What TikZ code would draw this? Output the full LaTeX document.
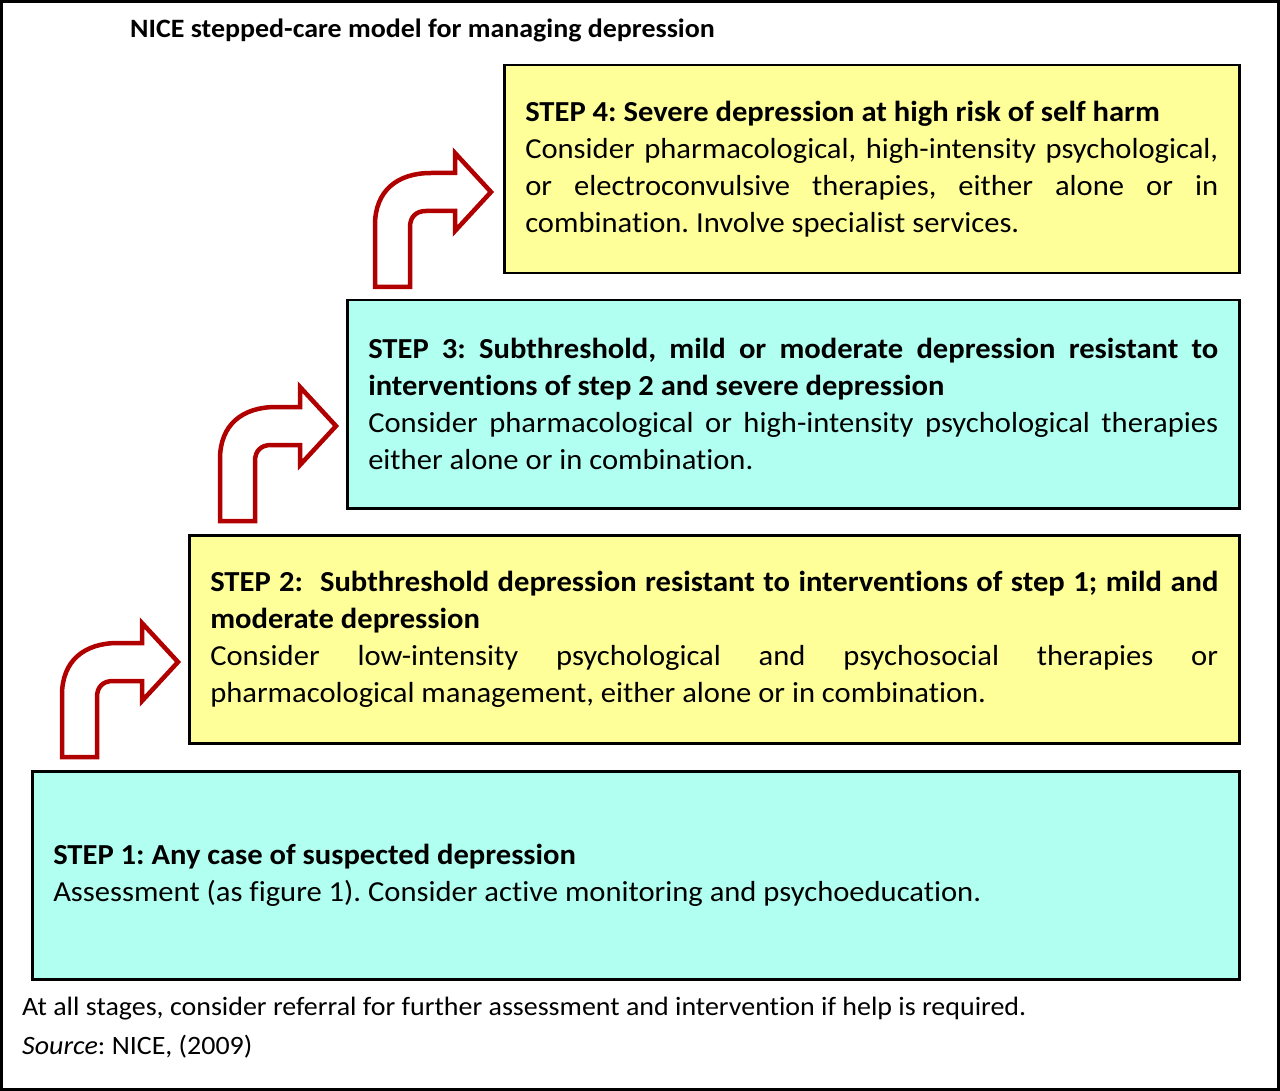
\documentclass[tikz,border=0pt]{standalone}
\usepackage{fontspec}
\setmainfont{Carlito}[Ligatures=NoCommon, FakeStretch=1.055]
\usepackage{xcolor}
\usepackage{tikz}
\usetikzlibrary{shapes,arrows,positioning,calc,arrows.meta}
\frenchspacing
\hyphenpenalty=10000
\exhyphenpenalty=10000

\definecolor{stepyellow}{HTML}{FFFF99}
\definecolor{stepcyan}{HTML}{B0FFF0}
\definecolor{arrowred}{HTML}{B00000}

\tikzset{
    stepbox/.style={draw=black, line width=2.5pt, rectangle, anchor=north west,
        inner xsep=21pt, inner ysep=8pt, align=justify, minimum height=208pt,
        font=\fontsize{29}{37}\selectfont},
    arrowline/.style={draw=arrowred, fill=white, line width=4.5pt, line join=miter},
    pics/steparrow/.style={code={
        \draw[arrowline] (0,0) -- (0,-62) .. controls (0,-96) and (22,-114) .. (56,-114)
            -- (80,-114) -- (80,-134) -- (116,-95) -- (80,-56) -- (80,-76) -- (51,-76)
            .. controls (41,-76) and (35,-70) .. (35,-60) -- (35,0) -- cycle;
    }}
}

\begin{document}
\begin{tikzpicture}[x=1pt, y=-1pt]
    \useasboundingbox (0,0) rectangle (1280,1091);
    \draw[line width=3pt] (1.5,1.5) rectangle (1278.5,1089.5);

    % Title
    \node[anchor=west, inner sep=0pt, font=\fontsize{26.5}{31}\selectfont\bfseries] (title) at (130,30)
        {NICE stepped-care model for managing depression};

    % Steps
    \node[stepbox, fill=stepyellow, text width=693pt] (step4) at (503,64)
        {{\bfseries STEP 4: Severe depression at high risk of self harm}\par
        Consider pharmacological, high-intensity psychological, or electroconvulsive therapies, either alone or in combination. Involve specialist services.};
    \node[stepbox, fill=stepcyan, text width=850pt] (step3) at (346,299)
        {{\bfseries STEP 3: Subthreshold, mild or moderate depression resistant to interventions of step 2 and severe depression}\par
        Consider pharmacological or high-intensity psychological therapies either alone or in combination.};
    \node[stepbox, fill=stepyellow, text width=1008pt] (step2) at (188,534)
        {{\bfseries STEP 2:~ Subthreshold depression resistant to interventions of step 1; mild and moderate depression}\par
        Consider low-intensity psychological and psychosocial therapies or pharmacological management, either alone or in combination.};
    \node[stepbox, fill=stepcyan, text width=1165pt] (step1) at (31,770)
        {{\bfseries STEP 1: Any case of suspected depression}\par
        \raggedright Assessment (as figure 1). Consider active monitoring and psychoeducation.};

    % Arrows
    \pic at ($(step1.north west)+(31,-13)$) {steparrow};
    \pic at ($(step2.north west)+(32,-13)$) {steparrow};
    \pic at ($(step3.north west)+(29,-12)$) {steparrow};

    % Footer
    \node[anchor=west, inner sep=0pt, font=\fontsize{26.5}{31}\selectfont] (note) at (22,1009)
        {At all stages, consider referral for further assessment and intervention if help is required.};
    \node[anchor=west, inner sep=0pt, font=\fontsize{26.5}{31}\selectfont] (source) at (22,1047)
        {\textit{Source}: NICE, (2009)};
\end{tikzpicture}
\end{document}
